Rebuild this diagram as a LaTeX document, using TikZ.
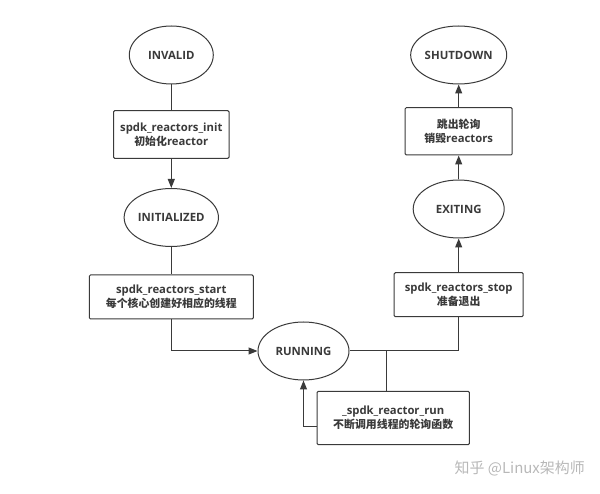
\documentclass[tikz,border=0pt]{standalone}
\usepackage{fontspec}
\setmainfont{Open Sans}
\newfontfamily\cjk{Noto Sans CJK SC}[Scale=0.965]
\usetikzlibrary{shapes.geometric,arrows.meta}
\definecolor{ink}{HTML}{3A3A3A}
\tikzset{
  state/.style={ellipse,draw=ink,line width=1pt,inner sep=0pt,minimum width=#1*2pt,minimum height=58pt,font=\fontsize{11.4}{13}\selectfont\bfseries,text=ink},
  procbox/.style={draw=ink,line width=1pt,rounded corners=1.2pt,align=center,inner sep=0pt,font=\fontsize{11.3}{13.5}\selectfont\bfseries,text=ink},
  link/.style={draw=ink,line width=1pt},
  arrow/.style={link,-{Triangle[length=9pt,width=7pt]}}
}
\begin{document}
\begin{tikzpicture}[x=1pt,y=-1pt]
\useasboundingbox (0,0) rectangle (600,494);
\node[state=42] (invalid) at (171.3,55) {INVALID};
\node[state=45.5] (initialized) at (171.3,217.5) {INITIALIZED};
\node[state=45.5] (shutdown) at (458.7,55) {SHUTDOWN};
\node[state=45.5] (exiting) at (458.7,209) {EXITING};
\node[state=45.5] (running) at (303.5,351) {RUNNING};
\node[procbox,minimum width=115.5pt,minimum height=47.6pt] (initb) at (171.3,134.5) {spdk\_reactors\_init\\{\cjk 初始化}reactor};
\node[procbox,minimum width=164pt,minimum height=44pt] (startb) at (171.3,297) {spdk\_reactors\_start\\{\cjk 每个核心创建好相应的线程}};
\node[procbox,minimum width=107pt,minimum height=47.4pt] (destroyb) at (458.7,131.3) {{\cjk 跳出轮询}\\{\cjk 销毁}reactors};
\node[procbox,minimum width=129pt,minimum height=44pt] (stopb) at (458.7,294.7) {spdk\_reactors\_stop\\{\cjk 准备退出}};
\node[procbox,minimum width=152.3pt,minimum height=53.4pt] (runb) at (393.2,418) {\_spdk\_reactor\_run\\{\cjk 不断调用线程的轮询函数}};
\coordinate (junction) at (386.7,351);
\coordinate (runleft) at (317,426.7);
\node[text=black!28,font=\cjk\fontsize{15.5}{18}\selectfont,anchor=east,inner sep=0pt] (mark) at (585,469) {知乎 @Linux架构师};
\draw[link] (invalid) -- (initb);
\draw[arrow] (initb) -- (initialized);
\draw[link] (initialized) -- (startb);
\draw[arrow] (startb.south) |- (running.west);
\draw[link] (running.east) -| (stopb.south);
\draw[link] (junction) -- (junction |- runb.north);
\draw[arrow] (runleft) -| (running.south);
\draw[arrow] (stopb) -- (exiting);
\draw[arrow] (exiting) -- (destroyb);
\draw[arrow] (destroyb) -- (shutdown);
\end{tikzpicture}
\end{document}
